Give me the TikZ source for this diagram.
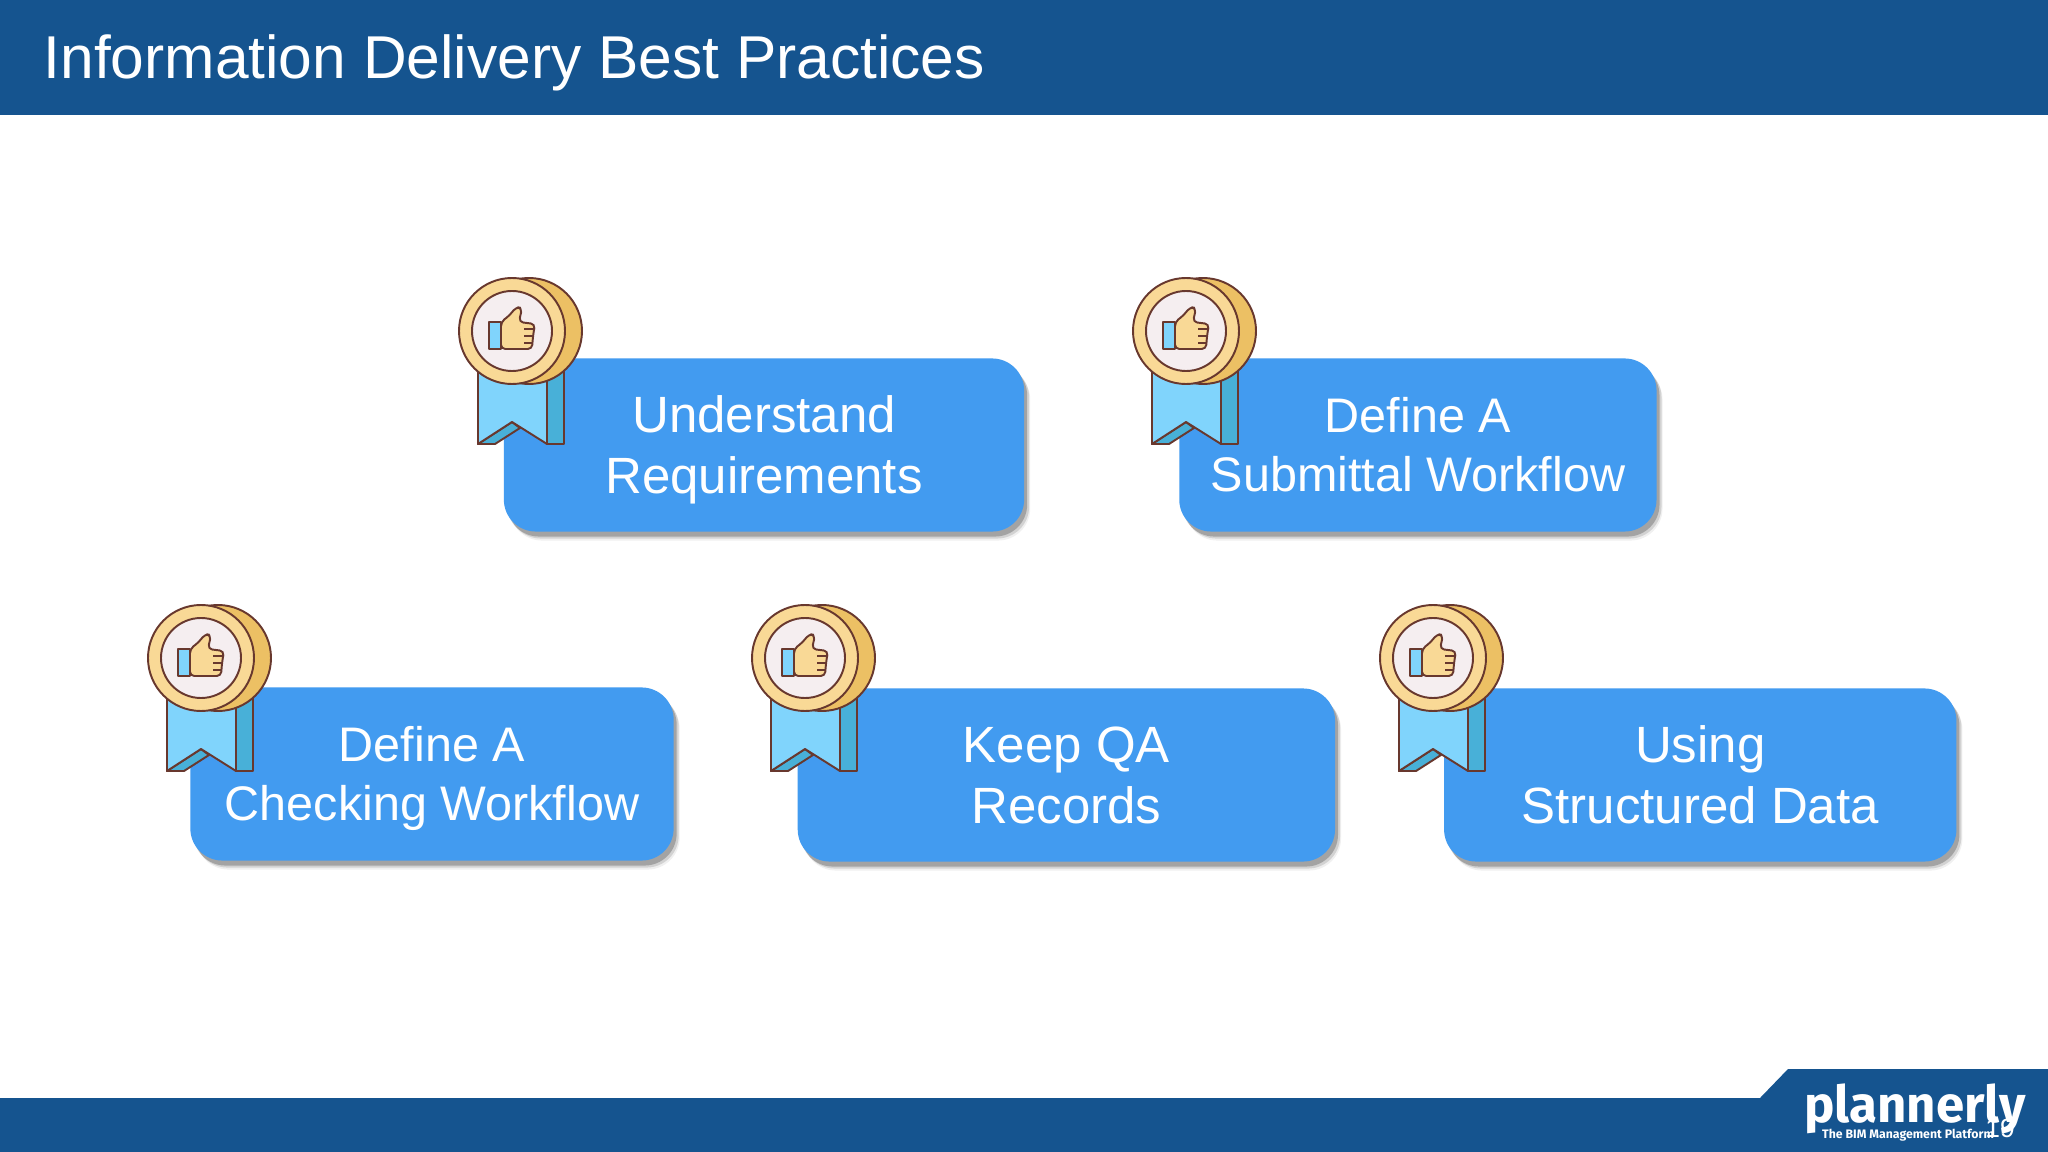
\documentclass[tikz,border=0pt]{standalone}
\usepackage{fontspec}
\usepackage{xcolor}
\usetikzlibrary{positioning, shadows}
\setmainfont{Liberation Sans}
\newfontfamily\logofont{Fira Sans}
\definecolor{barblue}{RGB}{21, 84, 143}
\definecolor{boxblue}{RGB}{66, 155, 240}
\definecolor{coinlight}{RGB}{249, 217, 150}
\definecolor{coindark}{RGB}{236, 192, 100}
\definecolor{coinface}{RGB}{245, 238, 240}
\definecolor{ribbonlight}{RGB}{128, 212, 252}
\definecolor{ribbondark}{RGB}{72, 176, 216}
\definecolor{outline}{RGB}{104, 56, 46}

\tikzset{
    practice/.style={
        rectangle,
        rounded corners=0.32cm,
        fill=boxblue,
        text=white,
        align=center,
        inner sep=0pt,
        outer sep=0pt,
        text height=27.8pt,
        text depth=0pt,
        minimum height=1.73cm,
        drop shadow={shadow xshift=0.06cm, shadow yshift=-0.09cm, fill=black, opacity=0.06},
        drop shadow={shadow xshift=0.05cm, shadow yshift=-0.07cm, fill=black, opacity=0.12},
        drop shadow={shadow xshift=0.03cm, shadow yshift=-0.05cm, fill=black, opacity=0.22},
    },
    workflow/.style={
        practice,
        text height=26.2pt,
        font=\fontsize{13.8}{16.7}\selectfont,
    },
    badge/.pic={
        \begin{scope}[draw=outline, line width=0.55pt, line join=round]
            % ribbon
            \filldraw[fill=ribbondark] (35,30) rectangle (52,113);
            \filldraw[fill=ribbondark] (-34,113) -- (0,91) -- (8,97) -- (-17,113) -- cycle;
            \filldraw[fill=ribbonlight] (-34,30) -- (35,30) -- (35,113) -- (0,91) -- (-34,113) -- cycle;
            % coin
            \filldraw[fill=coindark] (17,0) circle (53);
            \filldraw[fill=coinlight] (0,0) circle (53);
            \filldraw[fill=coinface] (0,0) circle (40);
            % thumb
            \filldraw[fill=ribbonlight] (-23,-9) rectangle (-11,18);
            \filldraw[fill=coinlight, rounded corners=1.2pt] (-11,-9) -- (-2,-16) -- (4,-24) -- (10,-23) -- (7,-9) -- (23,-7) -- (21,5) -- (20,18) -- (-11,18) -- cycle;
            \draw (12,-2) -- (22,-2) (12,5) -- (21,5) (12,12) -- (20,12);
        \end{scope}
    }
}

\begin{document}
\begin{tikzpicture}[x=0.01cm, y=-0.01cm]
    \useasboundingbox (0,0) rectangle (2048,1152);
    \fill[white] (0,0) rectangle (2048,1152);

    % bars
    \fill[barblue] (0,0) rectangle (2048,115);
    \fill[barblue] (0,1152) -- (0,1098) -- (1760,1098) -- (1788,1069) -- (2048,1069) -- (2048,1152) -- cycle;
    \node[anchor=west, text=white, font=\fontsize{17.2}{20}\selectfont, inner sep=0pt] (title) at (43,63) {Information Delivery Best Practices};

    % boxes
    \node[practice, minimum width=5.2cm, font=\fontsize{14.5}{17.5}\selectfont] (requirements) at (764,445) {Understand\\Requirements};
    \node[workflow, minimum width=4.77cm, right=1.55cm of requirements] (submittal) {Define A\\Submittal Workflow};
    \node[workflow, minimum width=4.83cm] (checking) at (432,774) {Define A\\Checking Workflow};
    \node[practice, minimum width=5.37cm, font=\fontsize{14.5}{17.5}\selectfont, right=1.24cm of checking, yshift=-0.01cm] (records) {Keep QA\\Records};
    \node[practice, minimum width=5.12cm, font=\fontsize{14.5}{17.5}\selectfont, right=1.09cm of records] (structured) {Using\\Structured Data};

    % badges
    \foreach \cx/\cy in {512/331, 1186/331, 201/658, 805/658, 1433/658}
        \pic at (\cx,\cy) {badge};

    % logo
    \node[text=white, font=\logofont\bfseries\fontsize{14.5}{18}\selectfont, inner sep=0pt, anchor=base] (logo) at (1915,1122) {plannerly};
    \node[text=white, font=\logofont\bfseries\fontsize{3.5}{5}\selectfont, inner sep=0pt, anchor=base] (tagline) at (1908,1138) {The BIM Management Platform};
    \node[text=white, font=\fontsize{7.5}{8}\selectfont, inner sep=0pt, anchor=base] (pageno) at (2000,1137) {19};
\end{tikzpicture}
\end{document}
